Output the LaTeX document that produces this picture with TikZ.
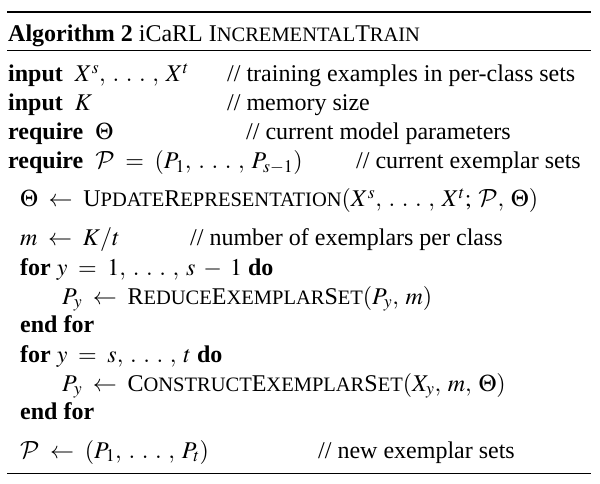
\documentclass[tikz,border=0pt]{standalone}
\usepackage{mathptmx}
\usepackage{fontspec}
\setmainfont{Liberation Serif}
\DeclareMathAlphabet{\mathcal}{OMS}{cmsy}{m}{n}
\newcommand{\ksc}[2]{#1{\fontsize{20.5}{22}\selectfont #2}}
\thinmuskip=5mu
\medmuskip=6mu plus 2mu
\thickmuskip=8mu plus 3mu
\begin{document}
\begin{tikzpicture}[x=1pt,y=-1pt,every node/.style={anchor=base west,inner sep=0pt,font=\fontsize{24}{27}\selectfont}]
\useasboundingbox (0,0) rectangle (600,484);
\draw[line width=1.4pt] (7,12) -- (591,12);
\draw[line width=0.8pt] (7,50) -- (591,50);
\draw[line width=0.8pt] (7,473) -- (591,473);
\node (t) at (8,42) {\textbf{Algorithm 2} iCaRL \ksc{I}{NCREMENTAL}\ksc{T}{RAIN}};
\node (a1) at (8,82) {\textbf{input}\enspace$X^s,\dots,X^t$};
\node (c1) at (227,82) {// training examples in per-class sets};
\node (a2) at (8,111) {\textbf{input}\enspace$K$};
\node (c2) at (227,111) {// memory size};
\node (a3) at (8,140) {\textbf{require}\enspace$\Theta$};
\node (c3) at (246,140) {// current model parameters};
\node (a4) at (8,169) {\textbf{require}\enspace$\mathcal{P}=(P_1,\dots,P_{s-1})$};
\node (c4) at (356,169) {// current exemplar sets};
\node (b1) at (20,207) {$\Theta\leftarrow{}$\ksc{U}{PDATE}\ksc{R}{EPRESENTATION}$(X^s,\dots,X^t;\mathcal{P},\Theta)$};
\node (b2) at (20,245) {$m\leftarrow K/t$};
\node (c5) at (190,245) {// number of exemplars per class};
\node (b3) at (20,275) {\textbf{for} $y=1,\dots,s-1$ \textbf{do}};
\node (b4) at (62,304) {$P_y\leftarrow{}$\ksc{R}{EDUCE}\ksc{E}{XEMPLAR}\ksc{S}{ET}$(P_y,m)$};
\node (b5) at (20,332) {\textbf{end for}};
\node (b6) at (20,362) {\textbf{for} $y=s,\dots,t$ \textbf{do}};
\node (b7) at (62,391) {$P_y\leftarrow{}$\ksc{C}{ONSTRUCT}\ksc{E}{XEMPLAR}\ksc{S}{ET}$(X_y,m,\Theta)$};
\node (b8) at (20,419) {\textbf{end for}};
\node (b9) at (20,458) {$\mathcal{P}\leftarrow(P_1,\dots,P_t)$};
\node (c6) at (318,458) {// new exemplar sets};
\end{tikzpicture}
\end{document}
